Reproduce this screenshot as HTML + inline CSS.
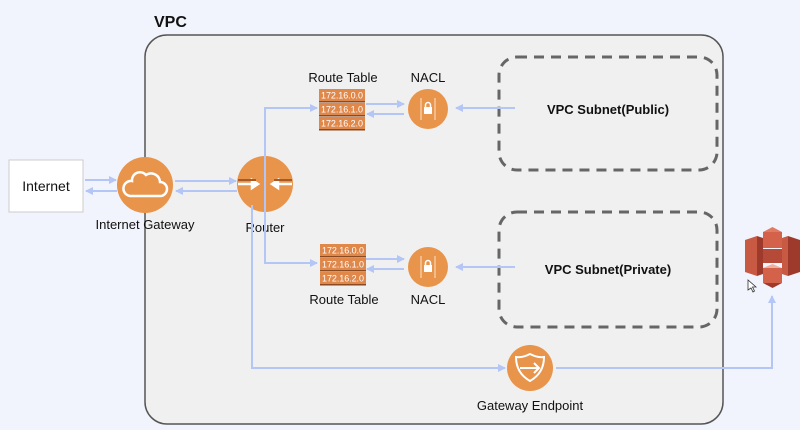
<!DOCTYPE html>
<html><head><style>
html,body{margin:0;padding:0;background:#f1f4fc;}
svg{display:block;font-family:"Liberation Sans",Arial,sans-serif;}
</style></head><body>
<svg width="800" height="430" viewBox="0 0 800 430" xmlns="http://www.w3.org/2000/svg">
<defs>
<marker id="a" markerWidth="8" markerHeight="8" refX="7" refY="4" orient="auto" markerUnits="userSpaceOnUse"><path d="M0,0 L8,4 L0,8 z" fill="#b4c6f6"/></marker>
</defs>
<rect x="0" y="0" width="800" height="430" fill="#f1f4fc"/>
<rect x="145" y="35" width="578" height="389" rx="22" fill="#f0f0f0" stroke="#555" stroke-width="1.5"/>
<text x="154" y="27" font-size="16" font-weight="bold" fill="#111">VPC</text>
<rect x="499" y="57" width="218" height="113" rx="18" fill="none" stroke="#666" stroke-width="3" stroke-dasharray="10,7"/>
<rect x="499" y="212" width="218" height="115" rx="18" fill="none" stroke="#666" stroke-width="3" stroke-dasharray="10,7"/>
<text x="608" y="114" font-size="13" font-weight="bold" text-anchor="middle" fill="#111">VPC Subnet(Public)</text>
<text x="608" y="274" font-size="13" font-weight="bold" text-anchor="middle" fill="#111">VPC Subnet(Private)</text>
<rect x="9" y="160" width="74" height="52" fill="#fff" stroke="#ccc"/>
<text x="46" y="191" font-size="14" text-anchor="middle" fill="#111">Internet</text>
<circle cx="145" cy="185" r="28" fill="#e8944a"/>
<path d="M130,196 h30 a7,7 0 0 0 0,-14 a9,9 0 0 0 -14,-7 a8,8 0 0 0 -14,6 a7,7 0 0 0 -2,15 z" fill="none" stroke="#fff" stroke-width="2.5"/>
<text x="145" y="229" font-size="13" text-anchor="middle" fill="#111">Internet Gateway</text>
<circle cx="265" cy="184" r="28" fill="#e8944a"/>
<g stroke="#fff" stroke-width="2.5" fill="#fff">
<line x1="238" y1="184" x2="256" y2="184"/><path d="M258,184 l-6,-4 v8z"/>
<line x1="292" y1="184" x2="274" y2="184"/><path d="M272,184 l6,-4 v8z"/>
</g>
<line x1="238" y1="180" x2="256" y2="180" stroke="#a85a26" stroke-width="2"/>
<line x1="274" y1="180" x2="292" y2="180" stroke="#a85a26" stroke-width="2"/>
<text x="265" y="232" font-size="13" text-anchor="middle" fill="#111">Router</text>
<g stroke="#b4c6f6" stroke-width="2" fill="none">
<line x1="85" y1="180" x2="116" y2="180" marker-end="url(#a)"/>
<line x1="117" y1="191" x2="86" y2="191" marker-end="url(#a)"/>
<line x1="175" y1="181" x2="236" y2="181" marker-end="url(#a)"/>
<line x1="237" y1="191" x2="176" y2="191" marker-end="url(#a)"/>
<polyline points="317,108 265,108 265,263 317,263" />
<line x1="300" y1="108" x2="317" y2="108" marker-end="url(#a)"/>
<line x1="300" y1="263" x2="317" y2="263" marker-end="url(#a)"/>
<line x1="366" y1="104" x2="404" y2="104" marker-end="url(#a)"/>
<line x1="404" y1="114" x2="367" y2="114" marker-end="url(#a)"/>
<line x1="366" y1="259" x2="404" y2="259" marker-end="url(#a)"/>
<line x1="404" y1="269" x2="367" y2="269" marker-end="url(#a)"/>
<line x1="515" y1="108" x2="456" y2="108" marker-end="url(#a)"/>
<line x1="515" y1="267" x2="456" y2="267" marker-end="url(#a)"/>
<polyline points="252,205 252,368 505,368" marker-end="url(#a)"/>
<polyline points="556,368 772,368 772,296" marker-end="url(#a)"/>
</g>
<g font-size="9" fill="#fff" text-anchor="middle">
<g>
<rect x="319" y="89" width="46" height="12" fill="#e0874a"/><rect x="319" y="101" width="46" height="1.5" fill="#8a4a22"/>
<rect x="319" y="103" width="46" height="12" fill="#e0874a"/><rect x="319" y="115" width="46" height="1.5" fill="#8a4a22"/>
<rect x="319" y="117" width="46" height="12" fill="#e0874a"/><rect x="319" y="129" width="46" height="1.5" fill="#8a4a22"/>
<text x="342" y="98.5" textLength="42">172.16.0.0</text><text x="342" y="112.5" textLength="42">172.16.1.0</text><text x="342" y="126.5" textLength="42">172.16.2.0</text>
</g>
<g transform="translate(1,155)">
<rect x="319" y="89" width="46" height="12" fill="#e0874a"/><rect x="319" y="101" width="46" height="1.5" fill="#8a4a22"/>
<rect x="319" y="103" width="46" height="12" fill="#e0874a"/><rect x="319" y="115" width="46" height="1.5" fill="#8a4a22"/>
<rect x="319" y="117" width="46" height="12" fill="#e0874a"/><rect x="319" y="129" width="46" height="1.5" fill="#8a4a22"/>
<text x="342" y="98.5" textLength="42">172.16.0.0</text><text x="342" y="112.5" textLength="42">172.16.1.0</text><text x="342" y="126.5" textLength="42">172.16.2.0</text>
</g>
</g>
<text x="343" y="82" font-size="13" text-anchor="middle" fill="#111">Route Table</text>
<text x="344" y="304" font-size="13" text-anchor="middle" fill="#111">Route Table</text>
<g>
<circle cx="428" cy="109" r="20" fill="#e8944a"/>
<line x1="421" y1="98" x2="421" y2="120" stroke="#f5c9a0" stroke-width="1.5"/>
<line x1="435" y1="98" x2="435" y2="120" stroke="#f5c9a0" stroke-width="1.5"/>
<rect x="424" y="107" width="8" height="7" fill="#fff"/>
<path d="M425.5,107 v-2 a2.5,2.5 0 0 1 5,0 v2" fill="none" stroke="#fff" stroke-width="1.5"/>
</g>
<g>
<circle cx="428" cy="267" r="20" fill="#e8944a"/>
<line x1="421" y1="256" x2="421" y2="278" stroke="#f5c9a0" stroke-width="1.5"/>
<line x1="435" y1="256" x2="435" y2="278" stroke="#f5c9a0" stroke-width="1.5"/>
<rect x="424" y="265" width="8" height="7" fill="#fff"/>
<path d="M425.5,265 v-2 a2.5,2.5 0 0 1 5,0 v2" fill="none" stroke="#fff" stroke-width="1.5"/>
</g>
<text x="428" y="82" font-size="13" text-anchor="middle" fill="#111">NACL</text>
<text x="428" y="304" font-size="13" text-anchor="middle" fill="#111">NACL</text>
<circle cx="530" cy="368" r="23" fill="#e8944a"/>
<path d="M530,354 q8,4 14,3 q0,16 -14,24 q-14,-8 -14,-24 q6,1 14,-3z" fill="none" stroke="#fff" stroke-width="2"/>
<line x1="520" y1="368" x2="538" y2="368" stroke="#fff" stroke-width="2"/>
<path d="M534,363 l5,5 l-5,5" fill="none" stroke="#fff" stroke-width="2"/>
<text x="530" y="410" font-size="13" text-anchor="middle" fill="#111">Gateway Endpoint</text>
<g>
<path d="M745,240 l12,-4 v40 l-12,-4z" fill="#c85a44"/>
<path d="M757,236 l6,2 v36 l-6,2z" fill="#9e3a2c"/>
<path d="M800,240 l-12,-4 v40 l12,-4z" fill="#9e3a2c"/>
<path d="M788,236 l-6,2 v36 l6,2z" fill="#c85a44"/>
<rect x="763" y="232" width="19" height="16" fill="#d4624a"/>
<path d="M763,232 l9.5,-5 l9.5,5z" fill="#e07a60"/>
<rect x="763" y="249" width="19" height="14" fill="#b54a38"/>
<rect x="763" y="268" width="19" height="15" fill="#d4624a"/>
<path d="M763,268 l9.5,-4 l9.5,4z" fill="#f0b0a0"/>
<path d="M763,283 l9.5,5 l9.5,-5z" fill="#9e3a2c"/>
</g>
<path d="M748,280 v10 l3,-2 l2,4 l1.5,-1 l-2,-4 h3.5z" fill="#fff" stroke="#333" stroke-width="0.8"/>
</svg>
</body></html>
